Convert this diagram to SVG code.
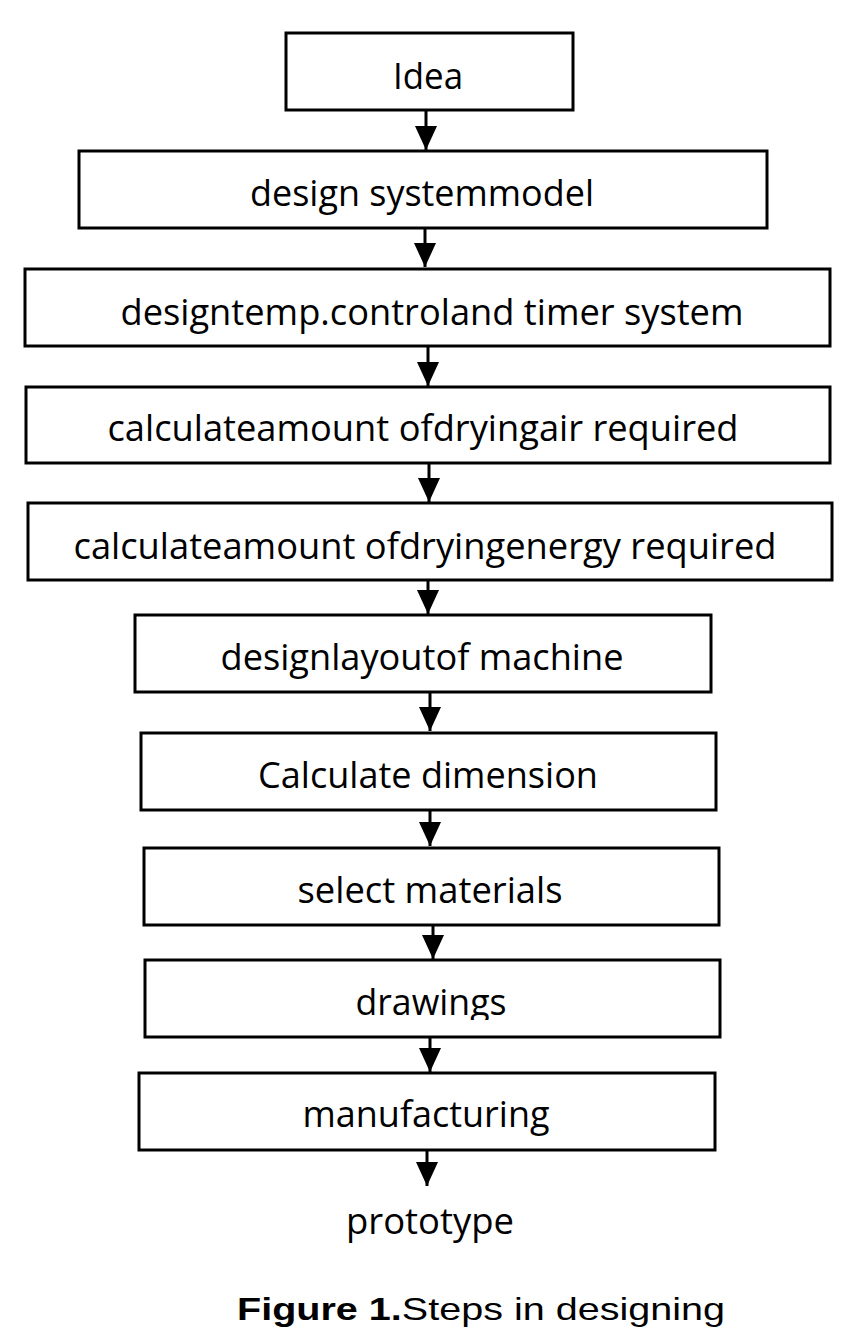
<svg xmlns="http://www.w3.org/2000/svg" width="853" height="1328" viewBox="0 0 853 1328">
  <defs>
    <style>
      .box { fill: #ffffff; stroke: #000000; stroke-width: 3; }
      .lbl { font-family: "Open Sans", "Noto Sans", "Liberation Sans", sans-serif; font-size: 37px; fill: #000000; text-anchor: middle; }
      .conn { stroke: #000000; stroke-width: 3; fill: none; marker-end: url(#arrow); }
      .cap { font-family: "Liberation Sans", Arial, sans-serif; font-size: 32px; fill: #000000; }
    </style>
    <marker id="arrow" viewBox="0 0 24 22" markerWidth="24" markerHeight="22" refX="24" refY="11" orient="auto" markerUnits="userSpaceOnUse">
      <path d="M0,0 L24,11 L0,22 z" fill="#000000"/>
    </marker>
    <clipPath id="clipDrawings">
      <rect x="145" y="960" width="575" height="60"/>
    </clipPath>
  </defs>
  <rect x="0" y="0" width="853" height="1328" fill="#ffffff"/>

  <g id="connectors">
    <line class="conn" x1="426" y1="111" x2="426" y2="150"/>
    <line class="conn" x1="425" y1="228" x2="425" y2="267"/>
    <line class="conn" x1="428" y1="346" x2="428" y2="386"/>
    <line class="conn" x1="429" y1="463" x2="429" y2="502"/>
    <line class="conn" x1="428" y1="580" x2="428" y2="614"/>
    <line class="conn" x1="430" y1="692" x2="430" y2="731"/>
    <line class="conn" x1="430" y1="810" x2="430" y2="846"/>
    <line class="conn" x1="433" y1="925" x2="433" y2="959"/>
    <line class="conn" x1="430" y1="1037" x2="430" y2="1072"/>
    <line class="conn" x1="427" y1="1150" x2="427" y2="1186"/>
  </g>

  <g id="n1">
    <rect class="box" x="286" y="33" width="287" height="77"/>
    <text class="lbl" x="428" y="89" textLength="70" lengthAdjust="spacingAndGlyphs">Idea</text>
  </g>
  <g id="n2">
    <rect class="box" x="79" y="151" width="688" height="77"/>
    <text class="lbl" x="422" y="206" textLength="344" lengthAdjust="spacingAndGlyphs">design systemmodel</text>
  </g>
  <g id="n3">
    <rect class="box" x="25" y="269" width="805" height="77"/>
    <text class="lbl" x="432" y="325" textLength="623" lengthAdjust="spacingAndGlyphs">designtemp.controland timer system</text>
  </g>
  <g id="n4">
    <rect class="box" x="26" y="387" width="804" height="76"/>
    <text class="lbl" x="423" y="441" textLength="631" lengthAdjust="spacingAndGlyphs">calculateamount ofdryingair required</text>
  </g>
  <g id="n5">
    <rect class="box" x="28" y="503" width="804" height="77"/>
    <text class="lbl" x="425" y="559" textLength="703" lengthAdjust="spacingAndGlyphs">calculateamount ofdryingenergy required</text>
  </g>
  <g id="n6">
    <rect class="box" x="135" y="615" width="576" height="77"/>
    <text class="lbl" x="422" y="670" textLength="403" lengthAdjust="spacingAndGlyphs">designlayoutof machine</text>
  </g>
  <g id="n7">
    <rect class="box" x="141" y="733" width="575" height="77"/>
    <text class="lbl" x="428" y="788" textLength="340" lengthAdjust="spacingAndGlyphs">Calculate dimension</text>
  </g>
  <g id="n8">
    <rect class="box" x="144" y="848" width="575" height="77"/>
    <text class="lbl" x="430" y="903" textLength="265" lengthAdjust="spacingAndGlyphs">select materials</text>
  </g>
  <g id="n9">
    <rect class="box" x="145" y="960" width="575" height="77"/>
    <text class="lbl" x="431" y="1015" textLength="151" lengthAdjust="spacingAndGlyphs" clip-path="url(#clipDrawings)">drawings</text>
  </g>
  <g id="n10">
    <rect class="box" x="139" y="1073" width="576" height="77"/>
    <text class="lbl" x="426" y="1127" textLength="247" lengthAdjust="spacingAndGlyphs">manufacturing</text>
  </g>
  <g id="n11">
    <text class="lbl" x="430" y="1234" textLength="168" lengthAdjust="spacingAndGlyphs">prototype</text>
  </g>

  <g id="caption">
    <text class="cap" x="237" y="1320" textLength="488" lengthAdjust="spacingAndGlyphs"><tspan font-weight="bold">Figure 1.</tspan>Steps in designing</text>
  </g>
</svg>
